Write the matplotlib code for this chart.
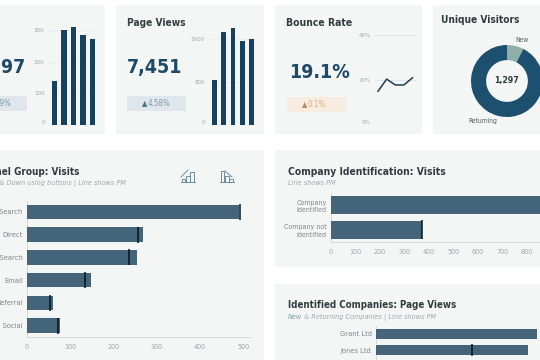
#!/usr/bin/env python3
"""Web analytics dashboard, cropped view"""
import matplotlib
matplotlib.use('Agg')
import matplotlib.pyplot as plt
from matplotlib.patches import Rectangle

plt.rcParams['font.family'] = ['DejaVu Sans']
plt.rcParams['font.stretch'] = 'condensed'

W, H = 540, 360

# data
visits_bars = [138, 300, 310, 285, 270]
visits_ticks = [0, 100, 200, 300]
views_bars = [837, 1730, 1805, 1563, 1600]
views_ticks = [0, 800, 1600]
bounce_line = [15, 20.4, 17.8, 17.8, 21]
bounce_ticks = [0, 20, 40]
donut_labels = ['New', 'Returning']
donut_values = [97, 1200]

channels = ['Paid Search', 'Direct', 'Organic Search', 'Email', 'Referral', 'Organic Social']
channel_visits = [490, 268, 255, 147, 60, 76]
channel_pm = [493, 257, 235, 135, 53, 72]
channel_ticks = [0, 100, 200, 300, 400, 500]

company_groups = ['Company\nIdentified', 'Company not\nIdentified']
company_visits = [927, 370]
company_pm = [900, 370]
company_ticks = [0, 100, 200, 300, 400, 500, 600, 700, 800]

companies = ['Grant Ltd', 'Jones Ltd', 'Hill Ltd']
company_views = [402, 379, 355]
company_views_pm = [415, 241, 330]

NAVY = '#17425f'
SLATE = '#44647a'
INK = '#333b40'
GREY = '#a3a8aa'
LABEL = '#80868a'
CARD = '#f4f5f5'
ICON = '#6f8da1'


def px_axes(x0, y0, x1, y1):
    """Axes placed by picture pixels, y measured from the top"""
    ax = fig.add_axes([x0 / W, 1 - y1 / H, (x1 - x0) / W, (y1 - y0) / H])
    ax.patch.set_alpha(0)
    for s in ax.spines.values():
        s.set_visible(False)
    return ax


def lift_zero_label(ax):
    # the reference sits its lowest tick label just above the baseline
    fig.canvas.draw()
    ax.get_yticklabels()[0].set_verticalalignment('bottom')


def mini_bars(box, values, ticks, ymax):
    ax = px_axes(*box)
    bars = ax.bar(range(len(values)), values, width=0.53, color=NAVY, zorder=3)
    for b in bars:
        b.set_clip_on(False)
    ax.set_xlim(-0.6, len(values) - 0.4)
    ax.set_ylim(0, ymax)
    ax.set_xticks([])
    ax.set_yticks(ticks)
    ax.tick_params(axis='y', length=0, labelsize=4.5, labelcolor=GREY, pad=3)
    ax.grid(axis='y', color='#e8eaea', linewidth=0.5, zorder=0)
    lift_zero_label(ax)
    return ax


def hbars(box, labels, values, pm, ticks, xmax, height, label_size=5.4):
    ax = px_axes(*box)
    ys = list(range(len(values)))
    ax.barh(ys, values, height=height, color=SLATE, zorder=3)
    ax.vlines(pm, [y - height / 2 - 0.03 for y in ys], [y + height / 2 + 0.03 for y in ys],
              color='#06141d', linewidth=1.1, zorder=4)
    ax.set_xlim(0, xmax)
    ax.set_ylim(len(values) - 0.5, -0.5)
    ax.set_yticks(ys)
    ax.set_yticklabels(labels, fontsize=label_size, color=LABEL, linespacing=1.25)
    ax.set_xticks(ticks)
    ax.tick_params(axis='both', length=0, pad=3)
    ax.tick_params(axis='x', labelsize=5.2, labelcolor=GREY, pad=5)
    for side in ['left', 'bottom']:
        ax.spines[side].set_visible(True)
        ax.spines[side].set_color('#d5d8d9')
        ax.spines[side].set_linewidth(0.7)
    return ax


fig = plt.figure(figsize=(W / 100, H / 100), dpi=100, facecolor='white')

# background layer in pixels: cards, headings, big numbers
bg = fig.add_axes([0, 0, 1, 1], zorder=-1)
bg.set_xlim(0, W)
bg.set_ylim(H, 0)
bg.axis('off')

for x0, y0, x1, y1 in [(-10, 5, 105, 134), (116, 5, 264, 134), (275, 5, 422, 134),
                       (433, 5, 550, 134), (-10, 150, 264, 370), (275, 150, 550, 267),
                       (275, 284, 550, 370)]:
    bg.add_patch(Rectangle((x0, y0), x1 - x0, y1 - y0, color=CARD, linewidth=0))


def big_number(cx, cy, txt):
    bg.text(cx, cy, txt, fontsize=14, fontweight='bold', color='#1d4a68', ha='center', va='center')


def badge(x0, y0, value, face, tri_color, color):
    bg.add_patch(Rectangle((x0, y0), 59, 15, color=face, linewidth=0))
    tri = bg.text(x0 + 15, y0 + 7.5, '▲', fontsize=5.6, color=tri_color, ha='left', va='center')
    bg.annotate(value, xy=(1, 0.5), xycoords=tri, fontsize=5.8, color=color, ha='left', va='center')


def heading(x, y, txt, size=7.4, ha='left'):
    bg.text(x, y, txt, fontsize=size, fontweight='bold', color=INK, ha=ha, va='center')


def note(x, y, txt, ha='left', color=GREY):
    return bg.text(x, y, txt, fontsize=5.2, style='italic', color=color, ha=ha, va='center')


big_number(-2.5, 68, '1,297')
badge(-32, 96, '3.99%', '#dfe7ec', '#4c7188', '#7f9bad')
heading(127, 23, 'Page Views', size=7.3)
big_number(155, 68, '7,451')
badge(127, 96, '4.58%', '#dfe7ec', '#4c7188', '#7f9bad')
heading(286, 23, 'Bounce Rate', size=7.5)
big_number(319, 73, '19.1%')
badge(287, 97, '0.1%', '#f7ecdf', '#b98a62', '#dcae85')
heading(441, 20, 'Unique Visitors', size=7.25)

heading(79, 172, 'Channel Group: Visits', size=7.1, ha='right')
note(126, 183, 'Drill Up & Down using buttons | Line shows PM', ha='right')
heading(288, 172, 'Company Identification: Visits')
note(288, 183, 'Line shows PM')
heading(288, 305, 'Identified Companies: Page Views', size=7)
new_txt = note(288, 317, 'New', color='#7fa39c')
bg.annotate(' & Returning Companies | Line shows PM', xy=(1, 0.5), xycoords=new_txt, fontsize=5.2,
            style='italic', color=GREY, ha='left', va='center')

# toolbar icons next to the channel heading
for ox, heights in [(181, [3, 6, 10]), (220, [11, 6, 3])]:
    for dx, h in zip([0.5, 4.8, 9], heights):
        bg.add_patch(Rectangle((ox + dx, 182 - h), 3.8, h, fill=False, edgecolor=ICON, linewidth=0.7))
    if heights[0] < heights[-1]:
        bg.plot([ox, ox + 7], [177, 170], color=ICON, linewidth=0.7)
    else:
        bg.plot([ox + 5, ox + 12], [171, 177], color=ICON, linewidth=0.7)
    bg.plot([ox - 0.5, ox + 13.5], [182, 182], color=ICON, linewidth=0.7)

# top row
mini_bars((48.8, 30, 98.2, 125), visits_bars, visits_ticks, 300)
mini_bars((209, 39, 257, 125), views_bars, views_ticks, 1600)

ax_line = px_axes(375, 35, 416, 125)
ax_line.plot(range(len(bounce_line)), bounce_line, color='#1b3f55', linewidth=1.1)
ax_line.set_xlim(-0.35, 4.4)
ax_line.set_ylim(0, 40)
ax_line.set_xticks([])
ax_line.set_yticks(bounce_ticks)
ax_line.set_yticklabels([f'{t}%' for t in bounce_ticks])
ax_line.tick_params(axis='y', length=0, labelsize=4.5, labelcolor=GREY, pad=3)
ax_line.grid(axis='y', color='#dfe2e2', linewidth=0.5)
ax_line.get_yticklabels()[0].set_verticalalignment('bottom')

ax_d = px_axes(471, 45, 543, 117)
ax_d.pie(donut_values, colors=['#8fb0a9', '#1d4f6e'], startangle=90, counterclock=False,
         radius=1, wedgeprops={'width': 0.42, 'linewidth': 0})
ax_d.set_xlim(-1, 1)
ax_d.set_ylim(-1, 1)
fig.text(507 / W, 1 - 81 / H, '1,297', fontsize=6.3, fontweight='bold', color=INK, ha='center', va='center')
fig.text(522 / W, 1 - 40 / H, donut_labels[0], fontsize=4.8, color='#555b5f', ha='center', va='center')
fig.text(483 / W, 1 - 121 / H, donut_labels[1], fontsize=4.8, color='#555b5f', ha='center', va='center')

# lower charts
hbars((27, 200.5, 250, 337), channels, channel_visits, channel_pm, channel_ticks, 516, 0.64)
hbars((331, 193, 740, 242), company_groups, company_visits, company_pm, company_ticks, 1670, 0.72, label_size=5)
hbars((375.7, 326, 560, 374), companies, company_views, company_views_pm, [], 460, 0.68)

fig.savefig('out.png', dpi=100)
plt.close(fig)
